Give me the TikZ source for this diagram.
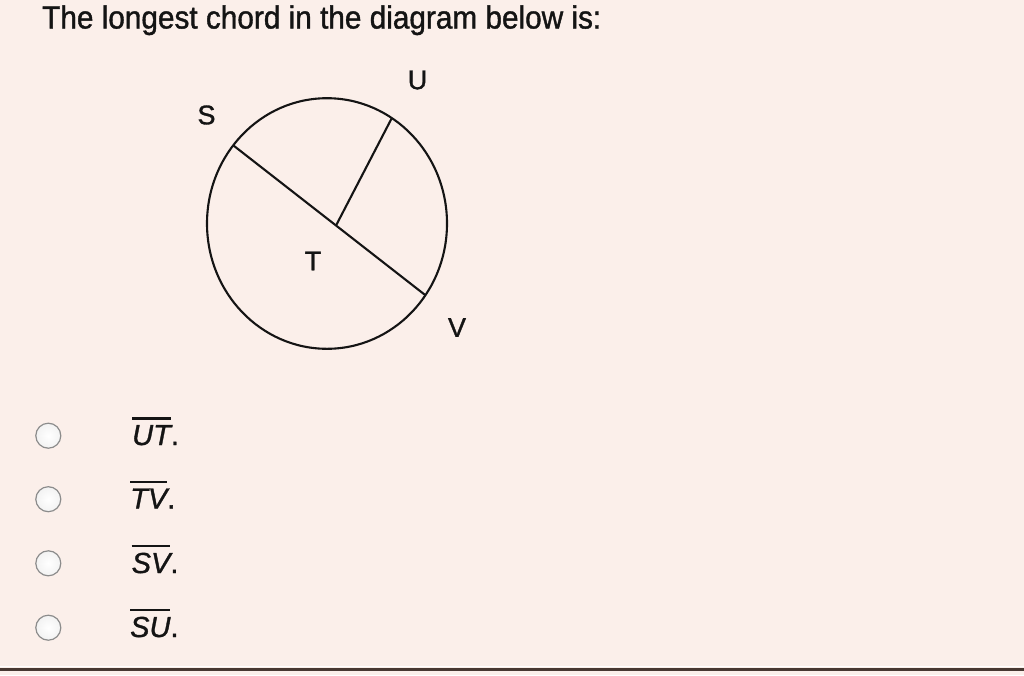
\documentclass[tikz,border=0pt]{standalone}
\usepackage{fontspec}
\setmainfont[FakeBold=1.2]{Liberation Sans}
\newfontfamily\titlefont[FakeBold=1.2,FakeStretch=0.93]{Liberation Sans}
\usetikzlibrary{calc}
\definecolor{bg}{RGB}{251,239,234}
\definecolor{ink}{RGB}{20,20,20}
\definecolor{radioedge}{RGB}{140,140,140}
\definecolor{rulec}{RGB}{72,56,50}
\newcommand\ovl[1]{\vbox{\hrule height 2.2pt\kern 5.5pt\hbox{\itshape #1}}}
\begin{document}
\begin{tikzpicture}[x=1pt,y=-1pt,
  every node/.style={text=ink, inner sep=0pt},
  circ/.style={draw=ink, line width=2.1pt},
  seg/.style={draw=ink, line width=2.1pt},
  ptlabel/.style={font=\fontsize{27}{32}\selectfont},
  radio/.style={circle, draw=radioedge, line width=1.2pt, inner color=white, outer color=white!90!gray, minimum size=25pt},
  opt/.style={anchor=base west, font=\fontsize{29}{34}\selectfont}]
\fill[bg] (0,0) rectangle (1024,675);
\useasboundingbox (0,0) rectangle (1024,675);
\node[anchor=base west, font=\titlefont\fontsize{32}{38}\selectfont] (title) at (42,28.5) {The longest chord in the diagram below is:};
% circle
\coordinate (O) at (327,223.5);
\draw[circ] (O) ellipse [x radius=120, y radius=125.3];
\coordinate (S) at (233.2,145.3);
\coordinate (V) at (425.4,295.2);
\coordinate (U) at (391.8,118.1);
\coordinate (J) at ($(S)!0.535!(V)$);
\draw[seg] (S) -- (V);
\draw[seg] (U) -- (J);
\node[ptlabel] (lS) at (206.5,115) {S};
\node[ptlabel] (lU) at (417.5,80) {U};
\node[ptlabel] (lT) at (313,261) {T};
\node[ptlabel] (lV) at (457,327.5) {V};
% options
\node[radio] (r1) at (48.3,435.7) {};
\node[radio] (r2) at (48.3,499.2) {};
\node[radio] (r3) at (48.3,563.3) {};
\node[radio] (r4) at (48.3,627.7) {};
\node[opt] (o1) at (132,445) {\ovl{UT}.};
\node[opt] (o2) at (130,508.5) {\ovl{TV}.};
\node[opt] (o3) at (131.5,573) {\ovl{SV}.};
\node[opt] (o4) at (130,637) {\ovl{SU}.};
% bottom rule
\draw[white, line width=1pt] (0,666.2) -- (1024,666.2);
\fill[rulec] (0,667.8) rectangle (1024,671.2);
\end{tikzpicture}
\end{document}
